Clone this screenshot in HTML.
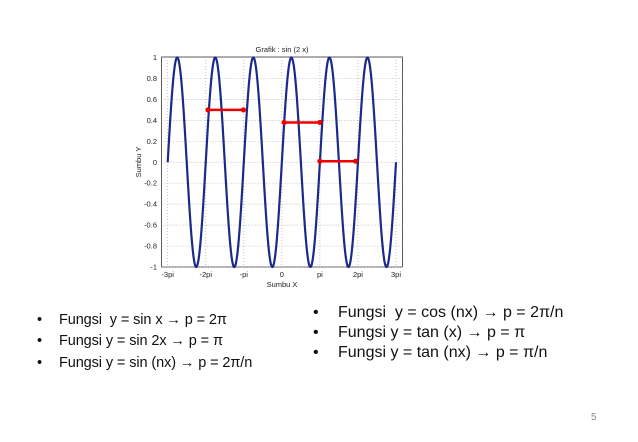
<!DOCTYPE html>
<html><head><meta charset="utf-8"><style>
body{margin:0;background:#fff;width:638px;height:442px;overflow:hidden;position:relative;font-family:"Liberation Sans",sans-serif}
.t{position:absolute;white-space:nowrap;color:#111}
.l{font-size:14.5px;letter-spacing:-0.1px}
.r{font-size:16px}
</style></head><body>
<svg width="638" height="442" style="position:absolute;left:0;top:0">
<g id="g"></g>
</svg>
<div class="t l" style="left:37px;top:312px">•</div>
<div class="t l" style="left:59px;top:312px">Fungsi&nbsp; y = sin x → p = 2π</div>
<div class="t l" style="left:37px;top:333px">•</div>
<div class="t l" style="left:59px;top:333px">Fungsi y = sin 2x → p = π</div>
<div class="t l" style="left:37px;top:355px">•</div>
<div class="t l" style="left:59px;top:355px">Fungsi y = sin (nx) → p = 2π/n</div>
<div class="t r" style="left:313px;top:304px">•</div>
<div class="t r" style="left:338px;top:304px">Fungsi&nbsp; y = cos (nx) → p = 2π/n</div>
<div class="t r" style="left:313px;top:324px">•</div>
<div class="t r" style="left:338px;top:324px">Fungsi y = tan (x) → p = π</div>
<div class="t r" style="left:313px;top:344px">•</div>
<div class="t r" style="left:338px;top:344px">Fungsi y = tan (nx) → p = π/n</div>
<div class="t" style="left:591px;top:412px;font-size:10px;color:#888">5</div>
<script>
const xTicks=[-3,-2,-1,0,1,2,3];
const xTickLabels=['-3pi','-2pi','-pi','0','pi','2pi','3pi'];
const yTicks=[-1,-0.8,-0.6,-0.4,-0.2,0,0.2,0.4,0.6,0.8,1];
const yTickLabels=['-1','-0.8','-0.6','-0.4','-0.2','0','0.2','0.4','0.6','0.8','1'];
const freq=2;
const segStart=[-1.94,0.06,1.0];
const segEnd=[-1.01,1.0,1.94];
const segY=[0.5,0.38,0.01];
const X0=167.7,X1=396,Y0=267,Y1=57.5;
const sx=v=>X0+(v+3)/6*(X1-X0);
const sy=v=>Y0-(v+1)/2*(Y0-Y1);
const g=document.getElementById('g');const NS='http://www.w3.org/2000/svg';
function mk(t,a,p){const e=document.createElementNS(NS,t);for(const k in a)e.setAttribute(k,a[k]);(p||g).appendChild(e);return e;}
let e=mk('rect',{x:161.5,y:57,width:241,height:210,fill:'#fff',stroke:'#333','stroke-width':0.8});

xTicks.forEach((v,i)=>{
 let l=mk('line',{x1:sx(v),x2:sx(v),y1:57,y2:267,stroke:'#aaa','stroke-dasharray':'1,2','stroke-width':0.7});
 
 let t=mk('text',{x:sx(v),y:277,'font-size':7.5,'text-anchor':'middle',fill:'#222'});t.textContent=xTickLabels[i];
 
});
yTicks.forEach((v,i)=>{
 let l=mk('line',{x1:161.5,x2:402.5,y1:sy(v),y2:sy(v),stroke:'#aaa','stroke-dasharray':'1,2','stroke-width':0.7});
 
 let t=mk('text',{x:157,y:sy(v)+2.5,'font-size':7.5,'text-anchor':'end',fill:'#222'});t.textContent=yTickLabels[i];
 
});
let d='';for(let i=0;i<=1200;i++){const x=-3+6*i/1200;d+=(i?'L':'M')+sx(x).toFixed(2)+','+sy(Math.sin(freq*x*Math.PI)).toFixed(2);}
e=mk('path',{d:d,fill:'none',stroke:'#1a2a8a','stroke-width':2.2});

segStart.forEach((s,i)=>{
 let l=mk('line',{x1:sx(s),x2:sx(segEnd[i]),y1:sy(segY[i]),y2:sy(segY[i]),stroke:'#e00','stroke-width':2.5});
 
 [s,segEnd[i]].forEach(v=>{let c=mk('circle',{cx:sx(v),cy:sy(segY[i]),r:2.6,fill:'#e00'});
 });
});
e=mk('text',{x:282,y:52,'font-size':7.5,'text-anchor':'middle',fill:'#222'});e.textContent='Grafik : sin (2 x)';

e=mk('text',{x:282,y:287,'font-size':7.5,'text-anchor':'middle',fill:'#222'});e.textContent='Sumbu X';

e=mk('text',{x:0,y:0,'font-size':7.5,'text-anchor':'middle',fill:'#222',transform:'translate(141,162) rotate(-90)'});e.textContent='Sumbu Y';

</script>
</body></html>
